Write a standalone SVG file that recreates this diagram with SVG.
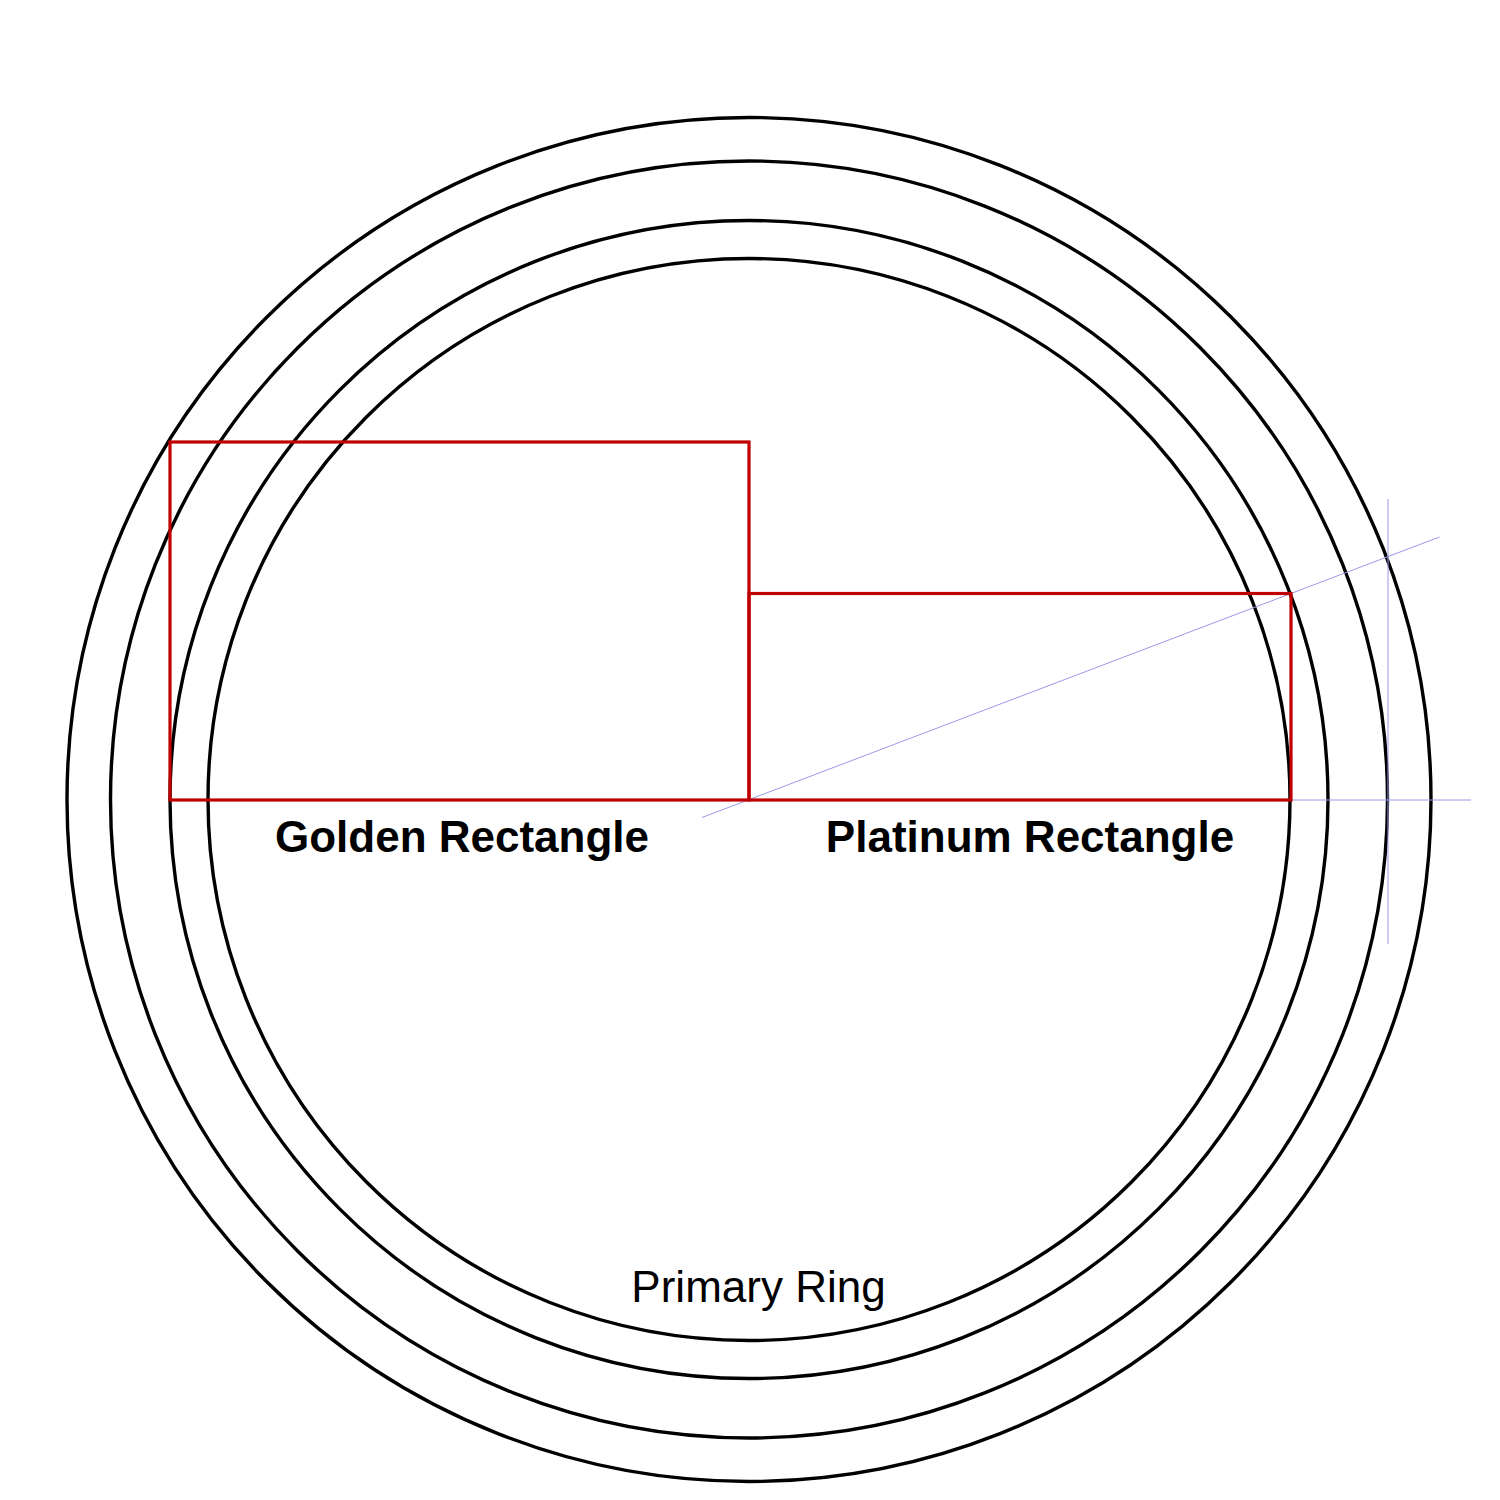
<svg xmlns="http://www.w3.org/2000/svg" width="1500" height="1500" viewBox="0 0 1500 1500">
<style>
.ring{fill:none;stroke:#000;stroke-width:3.4}
.rect{fill:none;stroke:#C00000;stroke-width:3.2}
.guide{fill:none;stroke:#9a9ae6;stroke-width:1}
.lbl{font-family:"Liberation Sans",Arial,sans-serif;font-size:44px;fill:#000;text-anchor:middle}
.bold{font-weight:bold}
</style>
<rect width="1500" height="1500" fill="#fff"/>
<g id="rings">
<circle class="ring" cx="749" cy="799.5" r="682"/>
<circle class="ring" cx="749" cy="799.5" r="638.5"/>
<circle class="ring" cx="749" cy="799.5" r="579"/>
<circle class="ring" cx="749" cy="799.5" r="541"/>
</g>
<g id="guides">
<line class="guide" x1="702" y1="817.5" x2="1439.5" y2="537"/>
<line class="guide" x1="1290" y1="800" x2="1471" y2="800"/>
<line class="guide" x1="1388" y1="499" x2="1388" y2="944"/>
</g>
<g id="golden-rectangle">
<rect class="rect" x="170" y="442" width="579" height="358"/>
<text class="lbl bold" x="462" y="852">Golden Rectangle</text>
</g>
<g id="platinum-rectangle">
<rect class="rect" x="749" y="593.5" width="542" height="206.5"/>
<text class="lbl bold" x="1030" y="852">Platinum Rectangle</text>
</g>
<g id="primary-ring">
<text class="lbl" x="758.5" y="1302">Primary Ring</text>
</g>
</svg>
